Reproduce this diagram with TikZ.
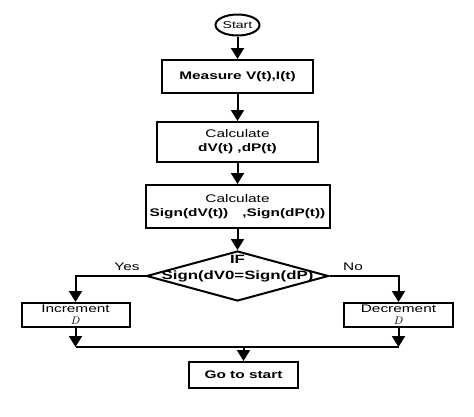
\documentclass[tikz,border=0pt]{standalone}
\usepackage{fontspec}
\setmainfont{Liberation Sans}[FakeStretch=1.4]
\usetikzlibrary{shapes.geometric,arrows.meta}
\begin{document}
\begin{tikzpicture}[x=1pt,y=-1pt,
  box/.style={draw,line width=2pt,rectangle,inner sep=0pt,align=center,
    font={\fontsize{11pt}{14pt}\selectfont}},
  smallbox/.style={box,font={\fontsize{11pt}{12pt}\selectfont}},
  arr/.style={line width=2pt,-{Triangle[width=13pt,length=11pt]}},
  ln/.style={line width=2pt},
  lbl/.style={inner sep=0pt,font={\fontsize{11pt}{13pt}\selectfont}}]
\useasboundingbox (0,0) rectangle (474,416);
\node[draw,ellipse,line width=2pt,minimum width=44pt,minimum height=21pt,inner sep=0pt,
  font={\fontsize{10pt}{12pt}\selectfont}] (start) at (237.5,25) {Start};
\node[box,minimum width=151pt,minimum height=33pt,
  font={\fontsize{11pt}{14pt}\selectfont\bfseries}] (meas) at (237.5,76.5) {Measure V(t),I(t)};
\node[box,minimum width=161pt,minimum height=40pt] (calc1) at (237.5,142) {Calculate\\\textbf{dV(t) ,dP(t)}};
\node[box,minimum width=184pt,minimum height=43pt] (calc2) at (237.5,206.5) {Calculate\\\textbf{Sign(dV(t))\hspace{14pt},Sign(dP(t))}};
\node[diamond,draw,line width=2pt,minimum width=182pt,minimum height=50pt,inner sep=0pt] (cond) at (237.5,276) {};
\node[align=center,inner sep=0pt,font={\fontsize{12pt}{16pt}\selectfont\bfseries}] (condtxt) at (237.5,268.5) {IF\\Sign(dV0=Sign(dP)};
\node[smallbox,minimum width=108pt,minimum height=24pt] (inc) at (75.5,315) {Increment\\$D$};
\node[smallbox,minimum width=109pt,minimum height=24pt] (decr) at (398.5,315) {Decrement\\$D$};
\node[box,minimum width=109pt,minimum height=26pt,
  font={\fontsize{11pt}{14pt}\selectfont\bfseries}] (goto) at (243.5,375) {Go to start};
\node[lbl] (yes) at (127,267) {Yes};
\node[lbl] (no) at (353,267) {No};
\coordinate (jl) at (75.5,347);
\coordinate (jr) at (398.5,347);
\coordinate (jm) at (243.5,347);
\draw[arr] (start.south) -- (meas.north);
\draw[arr] (meas.south) -- (calc1.north);
\draw[arr] (calc1.south) -- (calc2.north);
\draw[arr] (calc2.south) -- (cond.north);
\draw[arr] (cond.west) -| (inc.north);
\draw[arr] (cond.east) -| (decr.north);
\draw[arr] (inc.south) -- (jl);
\draw[arr] (decr.south) -- (jr);
\draw[ln] (jl) -- (jr);
\draw[arr] (jm) -- (goto.north);
\end{tikzpicture}
\end{document}
